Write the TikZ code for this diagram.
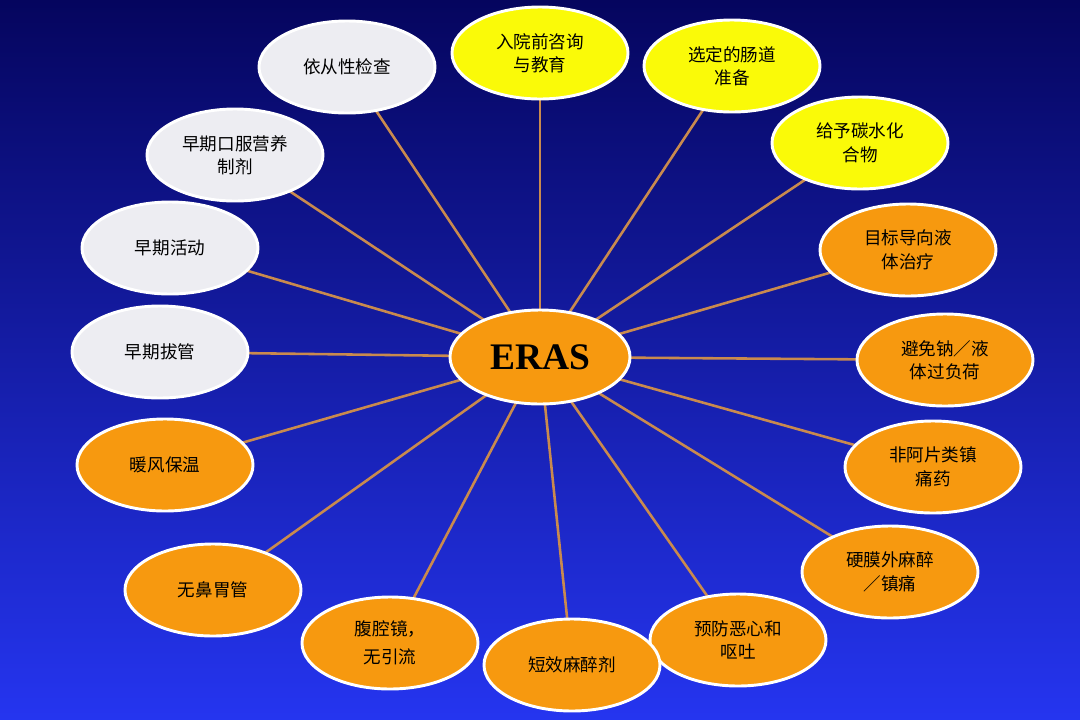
\documentclass[tikz,border=0pt]{standalone}
\usepackage{fontspec}
\setmainfont{Liberation Serif}
\newfontfamily\cjk{Noto Sans CJK SC}
\usetikzlibrary{shapes.geometric}
\pgfdeclarelayer{bg}\pgfsetlayers{bg,main}
\definecolor{bgtop}{HTML}{05055E}
\definecolor{bgbot}{HTML}{2535F0}
\definecolor{org}{HTML}{F7990F}
\definecolor{yel}{HTML}{FAFA08}
\definecolor{gry}{HTML}{EDEDF2}
\definecolor{lnk}{HTML}{C98A4E}
\tikzset{
 bub/.style={ellipse,draw=white,line width=2.5pt,minimum width=176*0.03cm,minimum height=92*0.03cm,inner sep=0pt,align=center,font=\cjk\fontsize{15}{20}\selectfont,text=black},
 o/.style={bub,fill=org}, yl/.style={bub,fill=yel}, g/.style={bub,fill=gry},
 lk/.style={draw=lnk,line width=2.2pt}
}
\begin{document}
\begin{tikzpicture}[x=0.03cm,y=-0.03cm]
\useasboundingbox (0,0) rectangle (1080,720);
\node[o,minimum width=180*0.03cm,minimum height=94*0.03cm,font=\bfseries\fontsize{32}{36}\selectfont] (c) at (540,357) {ERAS};
\node[yl] (n1) at (540,53) {入院前咨询\\与教育};
\node[yl] (n2) at (732,66) {选定的肠道\\准备};
\node[yl] (n3) at (860,143) {给予碳水化\\合物};
\node[o] (n4) at (908,250) {目标导向液\\体治疗};
\node[o] (n5) at (945,360) {避免钠／液\\体过负荷};
\node[o] (n6) at (933,467) {非阿片类镇\\痛药};
\node[o] (n7) at (890,572) {硬膜外麻醉\\／镇痛};
\node[o] (n8) at (738,640) {预防恶心和\\呕吐};
\node[o] (n9) at (572,665) {短效麻醉剂};
\node[o] (n10) at (390,643) {腹腔镜，\\[4pt]无引流};
\node[o] (n11) at (213,590) {无鼻胃管};
\node[o] (n12) at (165,465) {暖风保温};
\node[g] (n13) at (160,352) {早期拔管};
\node[g] (n14) at (170,248) {早期活动};
\node[g] (n15) at (235,155) {早期口服营养\\制剂};
\node[g] (n16) at (347,67) {依从性检查};
\begin{pgfonlayer}{bg}
\shade[top color=bgtop,bottom color=bgbot] (0,0) rectangle (1080,720);
\foreach \i in {1,...,16} \draw[lk] (c.center) -- (n\i.center);
\end{pgfonlayer}
\end{tikzpicture}
\end{document}
